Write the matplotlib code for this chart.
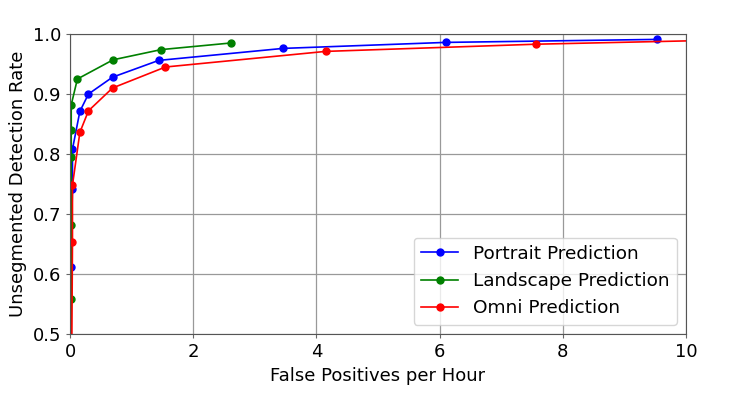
import numpy as np
import matplotlib.pyplot as plt

# false positives per hour / unsegmented detection rate
portrait_x = [0.0, 0.01, 0.04, 0.04, 0.16, 0.30, 0.69, 1.44, 3.46, 6.10, 9.53]
portrait_y = [0.0, 0.611, 0.741, 0.808, 0.871, 0.900, 0.928, 0.956, 0.976, 0.986, 0.991]

landscape_x = [0.0, 0.02, 0.02, 0.02, 0.02, 0.02, 0.12, 0.70, 1.48, 2.61]
landscape_y = [0.0, 0.558, 0.682, 0.795, 0.840, 0.882, 0.925, 0.957, 0.974, 0.985]

omni_x = [0.0, 0.04, 0.04, 0.16, 0.30, 0.69, 1.55, 4.15, 7.57, 12.0]
omni_y = [0.0, 0.653, 0.748, 0.836, 0.872, 0.910, 0.945, 0.971, 0.983, 0.993]

fig = plt.figure(figsize=(7.42, 3.99), dpi=100)
ax = fig.add_axes([70/742, 1 - 334/399, 616/742, 300/399])

ax.plot(portrait_x, portrait_y, 'o-', color='blue', ms=5, lw=1.2, label='Portrait Prediction')
ax.plot(landscape_x, landscape_y, 'o-', color='green', ms=5, lw=1.2, label='Landscape Prediction')
ax.plot(omni_x, omni_y, 'o-', color='red', ms=5, lw=1.2, label='Omni Prediction')

ax.set_xlim(0, 10)
ax.set_ylim(0.5, 1.0)
ax.set_xticks([0, 2, 4, 6, 8, 10])
ax.set_yticks([0.5, 0.6, 0.7, 0.8, 0.9, 1.0])
ax.grid(color='#999999', lw=0.9)
ax.tick_params(labelsize=13, color='#666666', length=3)
ax.set_xlabel('False Positives per Hour', fontsize=13)
ax.set_ylabel('Unsegmented Detection Rate', fontsize=13)
for s in ax.spines.values():
    s.set_color('#555555')
ax.legend(loc='lower right', fontsize=13.3)

fig.savefig('out.png', dpi=100)
